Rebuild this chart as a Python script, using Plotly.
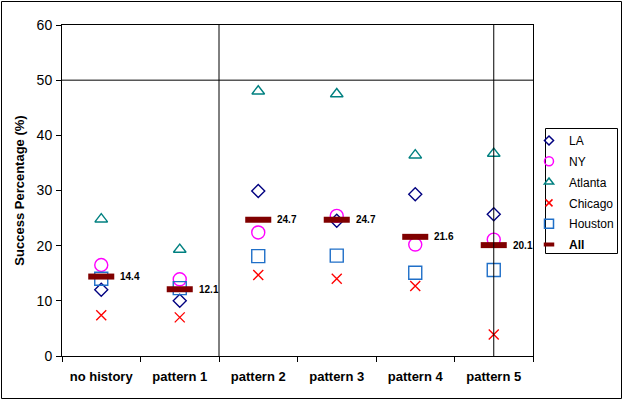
import plotly.graph_objects as go

categories = ["no history", "pattern 1", "pattern 2", "pattern 3", "pattern 4", "pattern 5"]
la = [12.0, 10.0, 29.9, 24.5, 29.3, 25.7]
ny = [16.5, 13.9, 22.4, 25.4, 20.2, 21.1]
atlanta = [24.8, 19.3, 48.0, 47.5, 36.4, 36.7]
chicago = [7.4, 7.0, 14.7, 14.0, 12.7, 3.9]
houston = [14.0, 12.3, 18.1, 18.2, 15.1, 15.6]
all_avg = [14.4, 12.1, 24.7, 24.7, 21.6, 20.1]
y_ticks = [0, 10, 20, 30, 40, 50, 60]

FONT = "Liberation Sans, Arial, sans-serif"
W, H = 624, 401
L, R, T, B = 62, 91, 25, 45
PW, PH = W - L - R, H - T - B


def px_x(p):
    return (p - L) / PW


def px_y(p):
    return (H - B - p) / PH


fig = go.Figure()

series = [
    ("LA", la, "diamond-open", "#000080", 10, 7),
    ("NY", ny, "circle-open", "#FF00FF", 13, 9),
    ("Atlanta", atlanta, "triangle-up-open", "#008080", 11, 8),
    ("Chicago", chicago, "x-thin-open", "#FF0000", 10, 7),
    ("Houston", houston, "square-open", "#1F6FC8", 13, 9),
]
for name, vals, sym, col, size, lsize in series:
    fig.add_trace(go.Scatter(
        x=categories, y=vals, mode="markers", name=name, showlegend=False,
        marker=dict(symbol=sym, size=size, color=col, line=dict(color=col, width=1.4)),
    ))

fig.add_trace(go.Scatter(
    x=categories, y=all_avg, mode="markers", name="All", showlegend=False,
    marker=dict(symbol="line-ew", size=18.6, color="#800000", line=dict(color="#800000", width=6)),
))

# legend entries (smaller swatches, as in the reference)
for name, vals, sym, col, size, lsize in series:
    fig.add_trace(go.Scatter(
        x=[None], y=[None], mode="markers", name=name, legendgroup=name,
        marker=dict(symbol=sym, size=lsize, color=col, line=dict(color=col, width=1.5)),
    ))
fig.add_trace(go.Scatter(
    x=[None], y=[None], mode="markers", name="<b>All</b>", legendgroup="All",
    marker=dict(symbol="line-ew", size=7.5, color="#800000", line=dict(color="#800000", width=4)),
))

for c, v in zip(categories, all_avg):
    fig.add_annotation(x=c, y=v, text=f"<b>{v:.1f}</b>", showarrow=False,
                       xanchor="left", xshift=17, yshift=0,
                       font=dict(family=FONT, size=10, color="black"))

# reference lines
fig.add_shape(type="line", xref="paper", yref="y", x0=0, x1=1, y0=50, y1=50,
              line=dict(color="black", width=1))
fig.add_shape(type="line", xref="x", yref="paper", x0=1.5, x1=1.5, y0=0, y1=1,
              line=dict(color="black", width=1))
fig.add_shape(type="line", xref="x", yref="paper", x0=5, x1=5, y0=0, y1=1,
              line=dict(color="black", width=1))
# legend box
fig.add_shape(type="rect", xref="paper", yref="paper",
              x0=px_x(545.5), x1=px_x(617.5), y0=px_y(253.5), y1=px_y(128.5),
              line=dict(color="black", width=1), fillcolor="white", layer="below")
# outer border
fig.add_shape(type="rect", xref="paper", yref="paper",
              x0=px_x(1.5), x1=px_x(621.5), y0=px_y(398.5), y1=px_y(1.5),
              line=dict(color="black", width=1))

fig.update_layout(
    width=W, height=H,
    margin=dict(l=L, r=R, t=T, b=B, autoexpand=False),
    paper_bgcolor="white", plot_bgcolor="rgba(0,0,0,0)",
    font=dict(family=FONT, size=13, color="black"),
    showlegend=True,
    legend=dict(xref="container", yref="container",
                x=529 / W, y=1 - 126 / H, xanchor="left", yanchor="top",
                borderwidth=0, bgcolor="rgba(0,0,0,0)",
                font=dict(family=FONT, size=12), itemwidth=30, tracegroupgap=1.8),
    xaxis=dict(type="category", range=[-0.5, 5.5], tickson="boundaries",
               ticks="outside", ticklen=5, tickcolor="black",
               showline=True, linecolor="black", linewidth=1, mirror=True,
               showgrid=False, zeroline=False, automargin=False,
               tickvals=categories, ticktext=[f"<b>{c}</b>" for c in categories],
               tickfont=dict(family=FONT, size=13), ticklabelstandoff=8),
    yaxis=dict(range=[0, 60], tickvals=y_ticks, ticks="outside", ticklen=5, tickcolor="black",
               showline=True, linecolor="black", linewidth=1, mirror=True,
               showgrid=False, zeroline=False, automargin=False,
               tickfont=dict(family=FONT, size=14), ticklabelstandoff=1,
               title=dict(text="<b>Success Percentage (%)</b>", font=dict(family=FONT, size=13), standoff=9)),
)

fig.write_html("out.html", config={"displayModeBar": False},
               post_script="document.body.style.margin='0';document.body.style.overflow='hidden';")
